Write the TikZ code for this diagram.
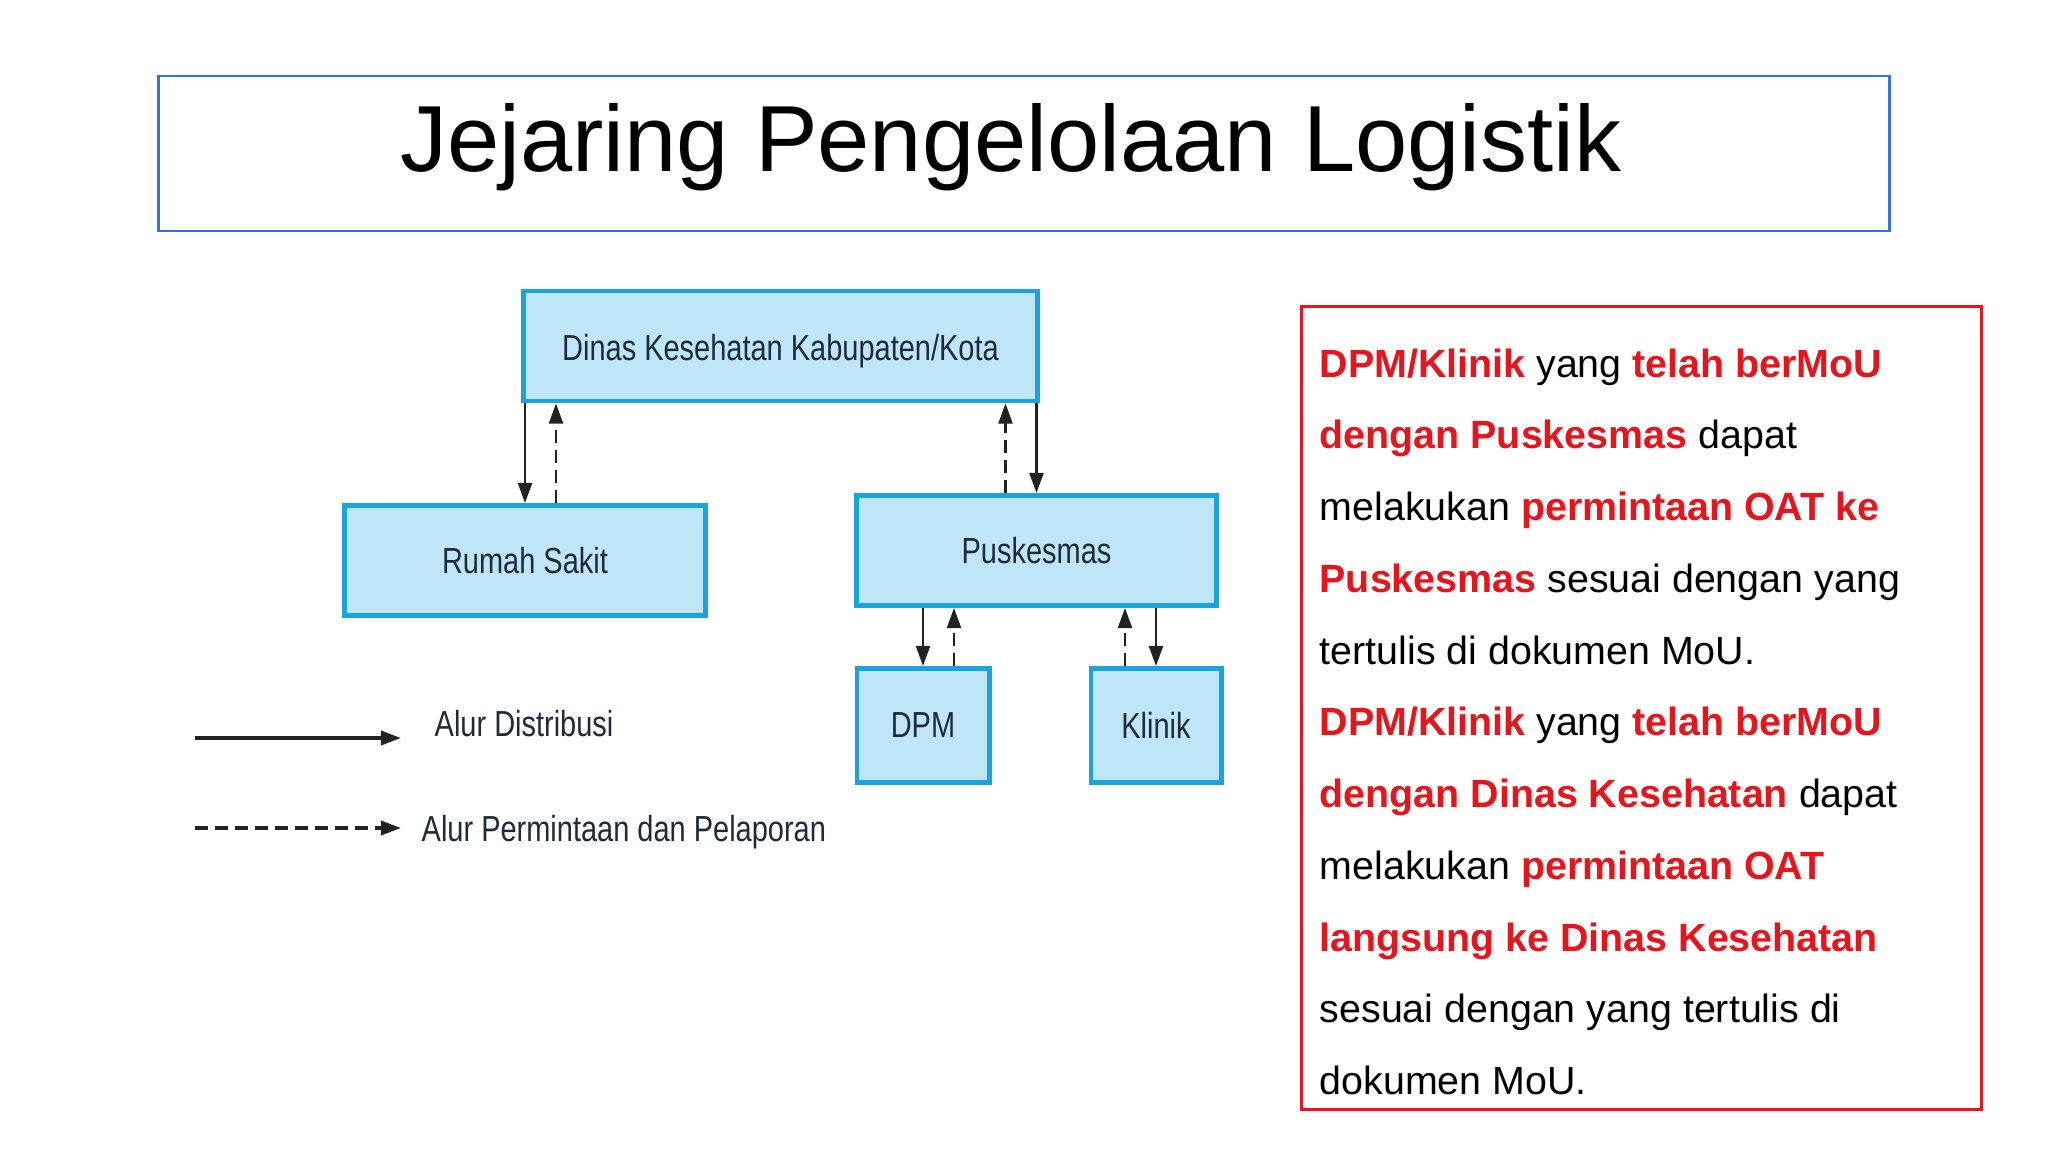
\documentclass[tikz,border=0pt]{standalone}
\usepackage{fontspec}
\setmainfont{Liberation Sans}
\newfontfamily\narrowfont[FakeStretch=0.8]{Liberation Sans}
\usetikzlibrary{arrows.meta,positioning,calc}
\usepackage{xcolor}
\definecolor{boxline}{HTML}{1BA3DE}
\definecolor{boxfill}{HTML}{BEE6F7}
\definecolor{boxtext}{HTML}{1E2A3A}
\definecolor{titleblue}{HTML}{2F74DA}
\definecolor{notered}{HTML}{E8141C}
\definecolor{flow}{HTML}{222222}
\newcommand{\redbf}[1]{\textcolor{notered}{\textbf{#1}}}

\begin{document}
\begin{tikzpicture}[
  x=0.01cm, y=-0.01cm,
  box/.style={draw=boxline, line width=1.4pt, fill=boxfill, text=boxtext,
    font=\narrowfont\fontsize{10.3}{12}\selectfont, minimum height=1.1cm, inner sep=0pt},
  dist/.style={-{Triangle[length=2mm,width=1.4mm]}, draw=flow, line width=0.6pt},
  req/.style={dist, dash pattern=on 3.7pt off 2pt},
  legtext/.style={font=\narrowfont\fontsize{10.3}{12}\selectfont, text=boxtext, inner sep=0pt, anchor=base west}
]
\useasboundingbox (0,0) rectangle (2048,1152);

\node[draw=titleblue, line width=0.7pt, minimum width=17.3cm, minimum height=1.55cm,
  font=\fontsize{26.7}{30}\selectfont, text height=19.5pt, text depth=9pt] (title) at (1024,153.5) {Jejaring Pengelolaan Logistik\kern0.26cm};

\node[box, minimum width=5.13cm, text height=9pt, text depth=1pt] (dinas) at (780.5,346) {Dinas Kesehatan Kabupaten/Kota};
\node[box, minimum width=3.6cm] (rs) at (525,560.5) {Rumah Sakit};
\node[box, minimum width=3.6cm] (pusk) at (1036.5,550.5) {Puskesmas};
\node[box, minimum width=1.32cm, minimum height=1.14cm] (dpm) at (923,725.5) {DPM};
\node[box, minimum width=1.3cm, minimum height=1.14cm] (klinik) at (1156,725.5) {Klinik};

\foreach \kid/\up/\off in {rs/dinas/31, pusk/dinas/-31, dpm/pusk/31, klinik/pusk/-31}{
  \draw[dist] (\kid.north |- \up.south) -- (\kid.north);
  \draw[req] ($(\kid.north)+(\off,0)$) -- ($(\kid.north |- \up.south)+(\off,0)$);
}

\coordinate (dstart) at (195,738);
\coordinate (dend) at (401,738);
\draw[dist, line width=1pt] (dstart) -- (dend);
\node[legtext] (ldist) at (434,736) {Alur Distribusi};
\coordinate (rstart) at (195,828);
\coordinate (rend) at (401,828);
\draw[req, line width=1pt] (rstart) -- (rend);
\node[legtext] (lreq) at (421,841) {Alur Permintaan dan Pelaporan};

\node[draw=notered, line width=0.8pt, minimum width=6.79cm, minimum height=8.02cm] (frame) at (1641.5,708) {};
\node[anchor=north west, inner sep=0pt, align=left, font=\fontsize{11.2}{20.4}\selectfont] (note) at (1319,348) {%
\redbf{DPM/Klinik} yang \redbf{telah berMoU}\\
\redbf{dengan Puskesmas} dapat\\
melakukan \redbf{permintaan OAT ke}\\
\redbf{Puskesmas} sesuai dengan yang\\
tertulis di dokumen MoU.\\
\redbf{DPM/Klinik} yang \redbf{telah berMoU}\\
\redbf{dengan Dinas Kesehatan} dapat\\
melakukan \redbf{permintaan OAT}\\
\redbf{langsung ke Dinas Kesehatan}\\
sesuai dengan yang tertulis di\\
dokumen MoU.};
\end{tikzpicture}
\end{document}
